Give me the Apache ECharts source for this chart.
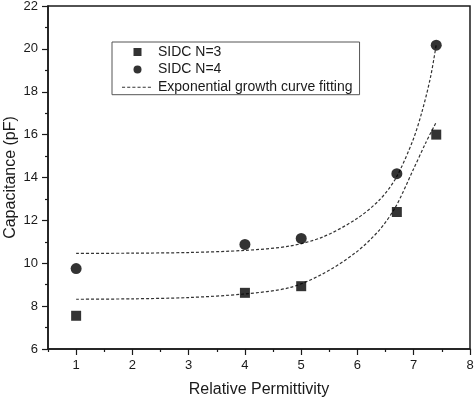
<!DOCTYPE html>
<html>
<head>
<meta charset="utf-8">
<script src="https://cdn.jsdelivr.net/npm/echarts@6/dist/echarts.min.js"></script>
<style>
  html, body { margin: 0; padding: 0; background: #fff; }
  #chart { width: 474px; height: 398px; }
</style>
</head>
<body>
<div id="chart"></div>
<script>
const permittivity = [1, 4, 5, 6.7, 7.4];
const sidcN3 = [7.55, 8.62, 8.93, 12.39, 16.0];
const sidcN4 = [9.75, 10.88, 11.16, 14.18, 20.17];

// fitted curves
const fitN3X = [1, 2, 3, 4, 4.79, 5.38, 5.97, 6.39, 6.68, 6.98, 7.21, 7.39];
const fitN3Y = [8.32, 8.34, 8.4, 8.57, 8.86, 9.5, 10.5, 11.55, 12.64, 14.3, 15.6, 16.53];
const fitN4X = [1, 2, 3, 4, 4.79, 5.38, 5.97, 6.39, 6.68, 6.98, 7.15, 7.3, 7.4];
const fitN4Y = [10.46, 10.47, 10.5, 10.6, 10.8, 11.22, 12.05, 12.95, 13.96, 15.7, 17.1, 18.7, 20.2];

const xMajorTicks = [1, 2, 3, 4, 5, 6, 7, 8];
const xMinorTicks = [0.5, 1.5, 2.5, 3.5, 4.5, 5.5, 6.5, 7.5];

const FONT = 'Liberation Sans, Arial, sans-serif';
const INK = '#1a1a1a';
const FIT_NAME = 'Exponential growth curve fitting';

const zip = (xs, ys) => xs.map((x, i) => [x, ys[i]]);

const chart = echarts.init(document.getElementById('chart'));

chart.setOption({
  animation: false,
  textStyle: { fontFamily: FONT },
  grid: {
    left: 48, right: 4, top: 6, bottom: 49,
    show: true, borderColor: INK, borderWidth: 1.5,
    outerBoundsMode: 'none'
  },
  legend: {
    orient: 'vertical',
    left: 112, top: 42,
    padding: [3, 7, 0.5, 10],
    borderColor: '#555', borderWidth: 1,
    itemWidth: 31, itemHeight: 8, itemGap: 3.6,
    symbolKeepAspect: true,
    selectedMode: false,
    textStyle: { fontSize: 14, color: INK, fontFamily: FONT },
    data: [
      { name: 'SIDC N=3', icon: 'path://M0,0h1v1h-1z' },
      { name: 'SIDC N=4', icon: 'circle' },
      { name: FIT_NAME, icon: 'path://M0,0h3v1h-3zM5,0h3v1h-3zM10,0h3v1h-3zM15,0h3v1h-3zM20,0h3v1h-3zM25,0h3v1h-3zM30,0h0v1h0z' }
    ]
  },
  xAxis: [
    {
      type: 'value', min: 0.5, max: 8,
      name: 'Relative Permittivity', nameLocation: 'middle', nameGap: 33,
      nameMoveOverlap: false,
      nameTextStyle: { fontSize: 16, color: INK },
      axisLine: { lineStyle: { color: INK, width: 1.5 } },
      axisTick: { length: 6, customValues: xMajorTicks, lineStyle: { color: INK, width: 1.2 } },
      axisLabel: { customValues: xMajorTicks, margin: 10, fontSize: 13, color: INK },
      splitLine: { show: false }
    },
    {
      type: 'value', min: 0.5, max: 8, position: 'bottom',
      axisLine: { show: false },
      axisTick: { length: 3, customValues: xMinorTicks, lineStyle: { color: INK, width: 1.2 } },
      axisLabel: { show: false },
      splitLine: { show: false }
    }
  ],
  yAxis: {
    type: 'value', min: 6, max: 22, interval: 2,
    name: 'Capacitance (pF)', nameLocation: 'middle', nameGap: 29,
    nameMoveOverlap: false,
    nameTextStyle: { fontSize: 16, color: INK },
    axisLine: { lineStyle: { color: INK, width: 1.5 } },
    axisTick: { length: 6, lineStyle: { color: INK, width: 1.2 } },
    minorTick: { show: true, splitNumber: 2, length: 3, lineStyle: { color: INK, width: 1.2 } },
    axisLabel: { margin: 10, fontSize: 13, color: INK },
    splitLine: { show: false }
  },
  series: [
    {
      name: FIT_NAME, type: 'line', smooth: 0.3, showSymbol: false,
      color: '#333', z: 1,
      lineStyle: { type: [3, 2], width: 1.2, color: '#333' },
      data: zip(fitN3X, fitN3Y)
    },
    {
      name: FIT_NAME, type: 'line', smooth: 0.3, showSymbol: false,
      color: '#333', z: 1,
      lineStyle: { type: [3, 2], width: 1.2, color: '#333' },
      data: zip(fitN4X, fitN4Y)
    },
    {
      name: 'SIDC N=3', type: 'scatter', symbol: 'rect', symbolSize: 10,
      color: '#000', z: 3,
      data: zip(permittivity, sidcN3)
    },
    {
      name: 'SIDC N=4', type: 'scatter', symbol: 'circle', symbolSize: 11,
      color: '#000', z: 3,
      data: zip(permittivity, sidcN4)
    }
  ]
});
</script>
</body>
</html>
